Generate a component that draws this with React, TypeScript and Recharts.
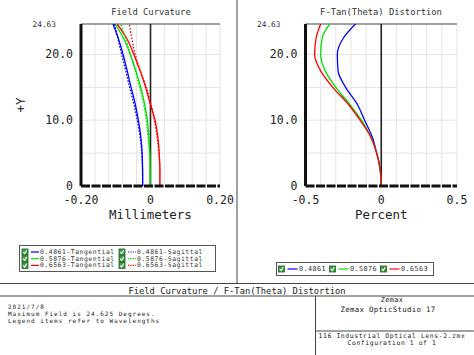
import React from 'react';
import { LineChart, Line, XAxis, YAxis, ReferenceLine, CartesianGrid } from 'recharts';

// ---------- data ----------
const fieldY = [0, 2.5, 5, 7.5, 10, 12.5, 15, 17.5, 20, 22.5, 24.63];
const tanBlue = [-0.0225, -0.0228, -0.024, -0.028, -0.035, -0.044, -0.056, -0.067, -0.079, -0.093, -0.108];
const sagBlue = [-0.0225, -0.023, -0.025, -0.030, -0.038, -0.048, -0.060, -0.071, -0.083, -0.094, -0.104];
const tanGreen = [-0.001, -0.001, -0.002, -0.005, -0.009, -0.017, -0.028, -0.042, -0.058, -0.078, -0.102];
const sagGreen = [-0.001, -0.0012, -0.003, -0.007, -0.012, -0.020, -0.031, -0.044, -0.058, -0.072, -0.086];
const tanRed = [0.027, 0.027, 0.025, 0.021, 0.013, -0.001, -0.014, -0.030, -0.048, -0.069, -0.096];
const sagRed = [0.027, 0.027, 0.024, 0.019, 0.011, 0.001, -0.012, -0.029, -0.044, -0.054, -0.061];
const distBlue = [0, -0.007, -0.03, -0.06, -0.11, -0.16, -0.235, -0.285, -0.29, -0.25, -0.17];
const distGreen = [0, -0.007, -0.03, -0.07, -0.13, -0.21, -0.30, -0.37, -0.40, -0.39, -0.34];
const distRed = [0, -0.007, -0.03, -0.07, -0.14, -0.22, -0.32, -0.40, -0.44, -0.43, -0.40];

const wavelengths = ['0.4861', '0.5876', '0.6563'];
const yTicks = [0, 5, 10, 15, 20, 24.63];
const yLabeled = [0, 10, 20, 24.63];
const fcXTicks = [-0.2, -0.16, -0.12, -0.08, -0.04, 0, 0.04, 0.08, 0.12, 0.16, 0.2];
const fcXLabeled = [-0.2, 0, 0.2];
const dXTicks = [-0.5, -0.4, -0.3, -0.2, -0.1, 0, 0.1, 0.2, 0.3, 0.4, 0.5];
const dXLabeled = [-0.5, 0, 0.5];

const fcTitle = 'Field Curvature';
const dTitle = 'F-Tan(Theta) Distortion';
const fcXLabel = 'Millimeters';
const dXLabel = 'Percent';
const yLabel = '+Y';
const footerTitle = 'Field Curvature / F-Tan(Theta) Distortion';
const footerLeft = ['2021/7/8', 'Maximum Field is 24.625 Degrees.', 'Legend items refer to Wavelengths'];
const footerRightTop = ['Zemax', 'Zemax OpticStudio 17'];
const footerRightBottom = ['116 Industrial Optical Lens-2.zmx', 'Configuration 1 of 1'];

const BLUE = '#0000ff';
const GREEN = '#00e000';
const RED = '#ff0000';

const fcData = fieldY.map((y, i) => ({
  y,
  tb: tanBlue[i], sb: sagBlue[i],
  tg: tanGreen[i], sg: sagGreen[i],
  tr: tanRed[i], sr: sagRed[i],
}));
const dData = fieldY.map((y, i) => ({ y, db: distBlue[i], dg: distGreen[i], dr: distRed[i] }));

const fcSeries = [
  { key: 'tb', name: `${wavelengths[0]}-Tangential`, color: BLUE, dotted: false },
  { key: 'tg', name: `${wavelengths[1]}-Tangential`, color: GREEN, dotted: false },
  { key: 'tr', name: `${wavelengths[2]}-Tangential`, color: RED, dotted: false },
  { key: 'sb', name: `${wavelengths[0]}-Sagittal`, color: BLUE, dotted: true },
  { key: 'sg', name: `${wavelengths[1]}-Sagittal`, color: GREEN, dotted: true },
  { key: 'sr', name: `${wavelengths[2]}-Sagittal`, color: RED, dotted: true },
];
const dSeries = [
  { key: 'db', name: wavelengths[0], color: BLUE },
  { key: 'dg', name: wavelengths[1], color: GREEN },
  { key: 'dr', name: wavelengths[2], color: RED },
];

const MONO = "'DejaVu Sans Mono', 'Liberation Mono', monospace";
const TEXT = '#222';

const renderYTick = (props: any) => {
  const { x, y, payload } = props;
  const v = payload.value;
  if (!yLabeled.includes(v)) return <g />;
  if (v === 24.63) {
    return (
      <text x={x - 17} y={y} textAnchor="end" dominantBaseline="central" fontSize={7.8} fill="#333" fontFamily={MONO}>
        {v.toFixed(2)}
      </text>
    );
  }
  return (
    <text x={x} y={y} textAnchor="end" dominantBaseline="central" fontSize={11.5} fill={TEXT} fontFamily={MONO}>
      {v === 0 ? '0' : v.toFixed(1)}
    </text>
  );
};

const fmt = (labeled: number[], digits: number) => (v: number) => {
  if (!labeled.some((l) => Math.abs(l - v) < 1e-9)) return '';
  if (Math.abs(v) < 1e-9) return '0';
  return v.toFixed(digits);
};

const Check = ({ x, y }: { x: number; y: number }) => (
  <g>
    <rect x={x} y={y - 3} width={6} height={6} fill="#3f9a44" stroke="#1e5e22" strokeWidth={0.8} />
    <path d={`M${x + 1.2} ${y} L${x + 2.6} ${y + 1.6} L${x + 4.8} ${y - 1.8}`} stroke="#fff" strokeWidth={1.1} fill="none" />
  </g>
);

const axisTick = { fontSize: 11.5, fill: TEXT, fontFamily: MONO };

function Chart({ data, series, xTicks, xLabeled, digits, yWidth, xLabel }: any) {
  return (
    <LineChart width={237} height={230} data={data} layout="vertical" margin={{ top: 24, right: 17, bottom: 0, left: 0 }}>
      <CartesianGrid stroke="#e3e3e3" />
      <XAxis
        type="number"
        domain={[xTicks[0], xTicks[xTicks.length - 1]]}
        ticks={xTicks}
        allowDataOverflow
        interval={0}
        tickFormatter={fmt(xLabeled, digits)}
        tick={axisTick}
        tickLine={false}
        tickMargin={4}
        height={44}
        axisLine={{ stroke: '#111', strokeWidth: 3, strokeDasharray: '9 1.5' }}
        label={{ value: xLabel, position: 'insideBottom', offset: 11, fontSize: 12.5, fill: TEXT, fontFamily: MONO }}
      />
      <YAxis
        type="number"
        dataKey="y"
        domain={[0, 24.63]}
        ticks={yTicks}
        interval={0}
        allowDataOverflow
        reversed
        width={yWidth}
        tick={renderYTick}
        tickLine={false}
        axisLine={{ stroke: '#111', strokeWidth: 3 }}
      />
      <ReferenceLine y={24.63} stroke="#555" strokeWidth={1} />
      <ReferenceLine x={0} stroke="#222" strokeWidth={1.6} />
      {series.map((s: any) => (
        <Line
          key={s.key}
          dataKey={s.key}
          name={s.name}
          type="monotone"
          stroke={s.color}
          strokeWidth={1.3}
          strokeDasharray={s.dotted ? '1.6 1.6' : undefined}
          dot={false}
          activeDot={false}
          isAnimationActive={false}
        />
      ))}
    </LineChart>
  );
}

export default function App() {
  const fcCols = [fcSeries.slice(0, 3), fcSeries.slice(3)];
  return (
    <div style={{ position: 'absolute', left: 0, top: 0, width: 474, height: 355, background: '#fff', overflow: 'hidden' }}>
      <div style={{ position: 'absolute', left: 0, top: 0 }}>
        <Chart data={fcData} series={fcSeries} xTicks={fcXTicks} xLabeled={fcXLabeled} digits={2} yWidth={81} xLabel={fcXLabel} />
      </div>
      <div style={{ position: 'absolute', left: 237, top: 0 }}>
        <Chart data={dData} series={dSeries} xTicks={dXTicks} xLabeled={dXLabeled} digits={1} yWidth={68.5} xLabel={dXLabel} />
      </div>
      <svg width={474} height={355} style={{ position: 'absolute', left: 0, top: 0, pointerEvents: 'none' }} fontFamily={MONO}>
        <defs>
          <clipPath id="zclip">
            <rect x={316} y={296.5} width={158} height={40} />
          </clipPath>
        </defs>
        {/* titles */}
        <text x={151} y={12} textAnchor="middle" dominantBaseline="central" fontSize={8.8} fill="#333">{fcTitle}</text>
        <text x={381} y={12} textAnchor="middle" dominantBaseline="central" fontSize={8.8} fill="#333">{dTitle}</text>
        <text x={20} y={105} textAnchor="middle" dominantBaseline="central" fontSize={12.5} fill={TEXT} transform="rotate(-90 20 105)">{yLabel}</text>
        {/* frame lines */}
        <line x1={237} y1={0} x2={237} y2={283.5} stroke="#444" strokeWidth={1} />
        <line x1={0} y1={283.5} x2={474} y2={283.5} stroke="#444" strokeWidth={1} />
        <line x1={0} y1={296} x2={474} y2={296} stroke="#444" strokeWidth={1} />
        <line x1={315.5} y1={296} x2={315.5} y2={355} stroke="#444" strokeWidth={1} />
        <line x1={315.5} y1={331} x2={474} y2={331} stroke="#444" strokeWidth={1} />
        {/* left legend */}
        <rect x={19.5} y={245.5} width={196} height={26} fill="#fff" stroke="#555" strokeWidth={1} />
        {fcCols.map((col, ci) =>
          col.map((s, ri) => {
            const x0 = ci === 0 ? 22 : 119;
            const yy = 252 + ri * 6.7;
            return (
              <g key={s.key}>
                <Check x={x0} y={yy} />
                <line x1={x0 + 9} y1={yy} x2={x0 + 17} y2={yy} stroke={s.color} strokeWidth={1.2} strokeDasharray={s.dotted ? '1.2 1.2' : undefined} />
                <text x={x0 + 18} y={yy} dominantBaseline="central" fontSize={6.4} letterSpacing={0.55} fill="#333">{s.name}</text>
              </g>
            );
          })
        )}
        {/* right legend */}
        <rect x={276.5} y={262.5} width={157} height={13} fill="#fff" stroke="#555" strokeWidth={1} />
        {dSeries.map((s, i) => {
          const x0 = 278.5 + i * 51;
          const yy = 269;
          return (
            <g key={s.key}>
              <Check x={x0} y={yy} />
              <line x1={x0 + 9} y1={yy} x2={x0 + 19} y2={yy} stroke={s.color} strokeWidth={1.2} />
              <text x={x0 + 20.5} y={yy} dominantBaseline="central" fontSize={6.8} letterSpacing={0.4} fill="#333">{s.name}</text>
            </g>
          );
        })}
        {/* footer */}
        <text x={237} y={291} textAnchor="middle" dominantBaseline="central" fontSize={8.8} fill={TEXT}>{footerTitle}</text>
        {footerLeft.map((t, i) => (
          <text key={t} x={8} y={306.5 + i * 7} dominantBaseline="central" fontSize={6} letterSpacing={1.0} fill={TEXT}>{t}</text>
        ))}
        <g clipPath="url(#zclip)">
          <text x={392} y={300} textAnchor="middle" dominantBaseline="central" fontSize={7} letterSpacing={0.3} fill={TEXT}>{footerRightTop[0]}</text>
        </g>
        <text x={388} y={309.5} textAnchor="middle" dominantBaseline="central" fontSize={7.4} letterSpacing={0.3} fill={TEXT}>{footerRightTop[1]}</text>
        {footerRightBottom.map((t, i) => (
          <text key={t} x={392} y={336 + i * 6.5} textAnchor="middle" dominantBaseline="central" fontSize={6.4} letterSpacing={0.6} fill={TEXT}>{t}</text>
        ))}
      </svg>
    </div>
  );
}
